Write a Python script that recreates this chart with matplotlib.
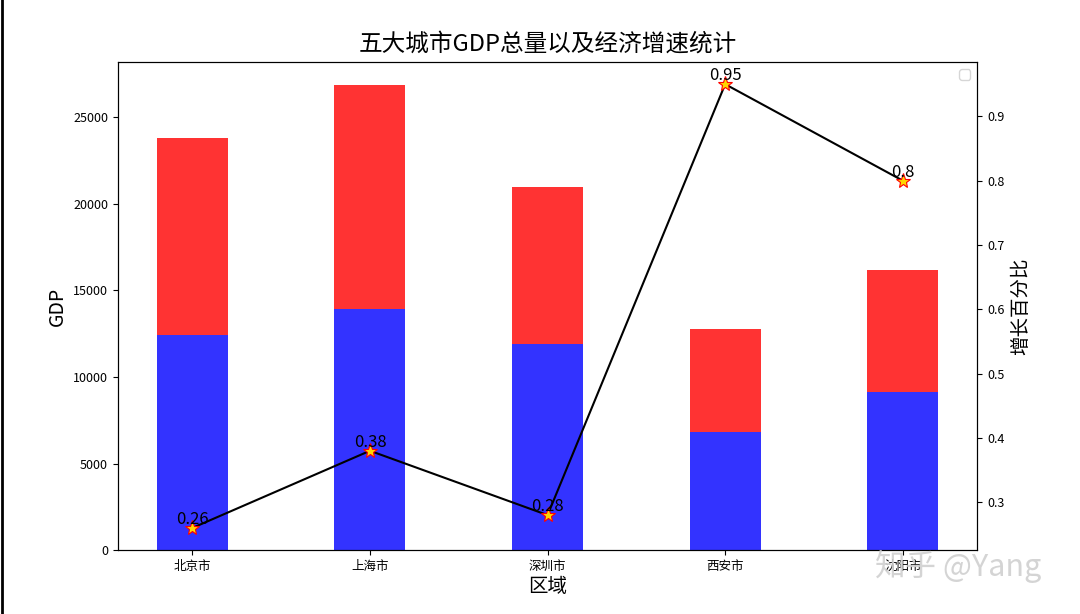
import matplotlib
matplotlib.use("Agg")
import matplotlib.pyplot as plt
import numpy as np
from matplotlib.lines import Line2D

plt.rcParams['font.family'] = ['Noto Sans CJK SC', 'DejaVu Sans']
plt.rcParams['axes.unicode_minus'] = False

# data
cities = ['北京市', '上海市', '深圳市', '西安市', '沈阳市']
gdp_base = [12400, 13900, 11900, 6800, 9150]      # blue, bottom part
gdp_extra = [11400, 12950, 9100, 6000, 7050]      # red, stacked on top
growth = [0.26, 0.38, 0.28, 0.95, 0.8]

x = np.arange(len(cities))

fig = plt.figure(figsize=(10.8, 6.14), dpi=100)
ax = fig.add_subplot(111)
fig.subplots_adjust(left=0.109, right=0.905, top=0.899, bottom=0.104)

ax.bar(x, gdp_base, width=0.4, color='blue', alpha=0.8)
ax.bar(x, gdp_extra, width=0.4, bottom=gdp_base, color='red', alpha=0.8)
ax.set_xticks(x)
ax.set_xticklabels(cities, fontsize=9)
ax.tick_params(axis='y', labelsize=9)
ax.set_xlabel('区域', fontsize=14, labelpad=2)
ax.set_ylabel('GDP', fontsize=14)
ax.set_title('五大城市GDP总量以及经济增速统计', fontsize=17, pad=8)

ax2 = ax.twinx()
ax2.plot(x, growth, color='black', linewidth=1.5, marker='*', markersize=11,
         markerfacecolor='gold', markeredgecolor='red', markeredgewidth=0.8)
for xi, g in zip(x, growth):
    ax2.text(xi, g, str(g), ha='center', va='bottom', fontsize=12)
ax2.tick_params(axis='y', labelsize=9)
ax2.set_ylabel('增长百分比', fontsize=14)
ax2.legend(handles=[], loc='upper right')

# watermark and left border seen in the screenshot
fig.text(0.81, 0.077, '知乎 @Yang', fontsize=22, color='#d0d0d0', alpha=0.9,
         va='center', ha='left')
fig.add_artist(Line2D([0.002, 0.002], [0, 1], color='black', linewidth=2,
                      transform=fig.transFigure))

fig.savefig('out.png', dpi=100)
